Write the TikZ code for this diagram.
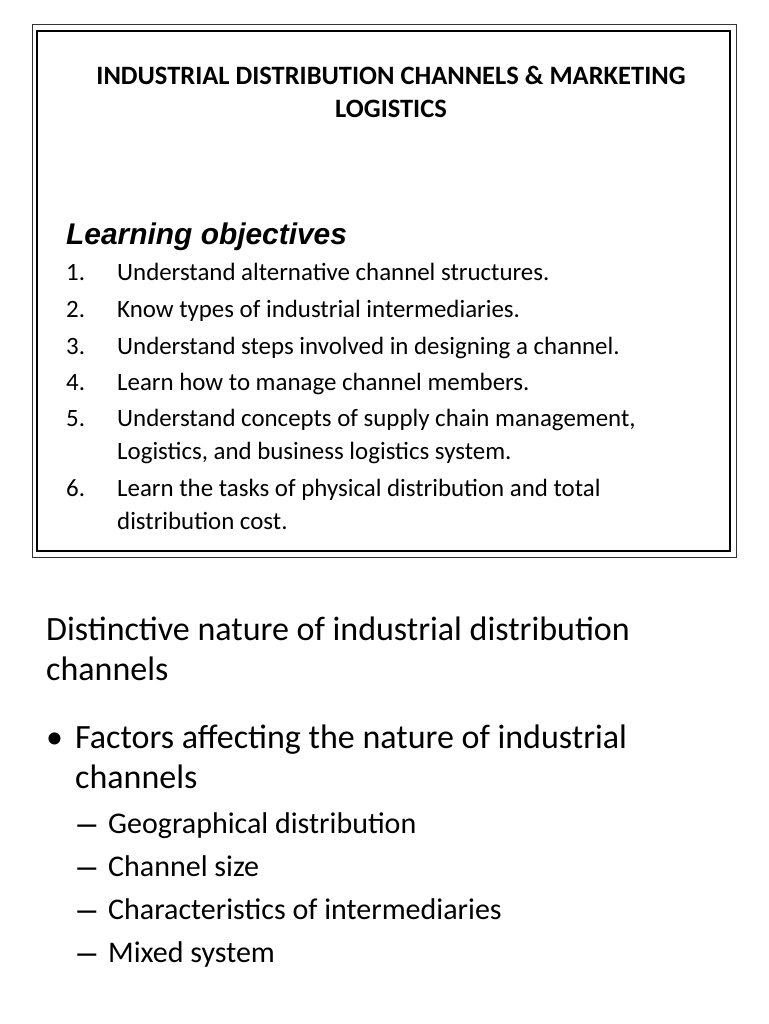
\documentclass[tikz,border=0pt]{standalone}
\usepackage{fontspec}
\setmainfont{Carlito}
\newfontfamily\arialf{Liberation Sans}
\begin{document}
\begin{tikzpicture}[x=1pt,y=-1pt,
  txt/.style={anchor=base west,inner sep=0pt,font=\fontsize{24.9}{28}\selectfont},
  big/.style={anchor=base west,inner sep=0pt,font=\fontsize{34}{40}\selectfont},
  sub/.style={anchor=base west,inner sep=0pt,font=\fontsize{30}{34}\selectfont}]
\useasboundingbox (0,0) rectangle (768,1024);
\draw[line width=1pt,black!80] (32,25) rectangle (736,557);
\draw[line width=1.6pt] (37,31) rectangle (730,551);
\node[anchor=base,inner sep=0pt,font=\bfseries\fontsize{26.5}{30}\selectfont] (t1) at (391,85) {INDUSTRIAL DISTRIBUTION CHANNELS \& MARKETING};
\node[anchor=base,inner sep=0pt,font=\bfseries\fontsize{26.5}{30}\selectfont] (t2) at (391,118) {LOGISTICS};
\node[anchor=base west,inner sep=0pt,font=\arialf\bfseries\itshape\fontsize{29.9}{34}\selectfont] (lo) at (66,244) {Learning objectives};
\foreach \n/\y/\t in {1/280/Understand alternative channel structures.,
 2/317/Know types of industrial intermediaries.,
 3/354/Understand steps involved in designing a channel.,
 4/390/Learn how to manage channel members.,
 5/426/{Understand concepts of supply chain management,},
 6/496/Learn the tasks of physical distribution and total}{
 \node[txt] (n\n) at (66,\y) {\n.};
 \node[txt] (i\n) at (117,\y) {\t};
}
\node[txt] (i5b) at (117,459) {Logistics, and business logistics system.};
\node[txt] (i6b) at (117,529) {distribution cost.};
\node[big] (h1) at (46,640) {Distinctive nature of industrial distribution};
\node[big] (h2) at (46,680) {channels};
\node[big] (b) at (46,748) {•};
\node[big] (f1) at (75,748) {Factors affecting the nature of industrial};
\node[big] (f2) at (75,788) {channels};
\foreach \k/\y/\t in {1/833/Geographical distribution,2/876/Channel size,3/919/Characteristics of intermediaries,4/962/Mixed system}{
 \node[sub,font=\bfseries\fontsize{26}{30}\selectfont] (d\k) at (75,\y) {—};
 \node[sub] (s\k) at (108,\y) {\t};
}
\end{tikzpicture}
\end{document}
